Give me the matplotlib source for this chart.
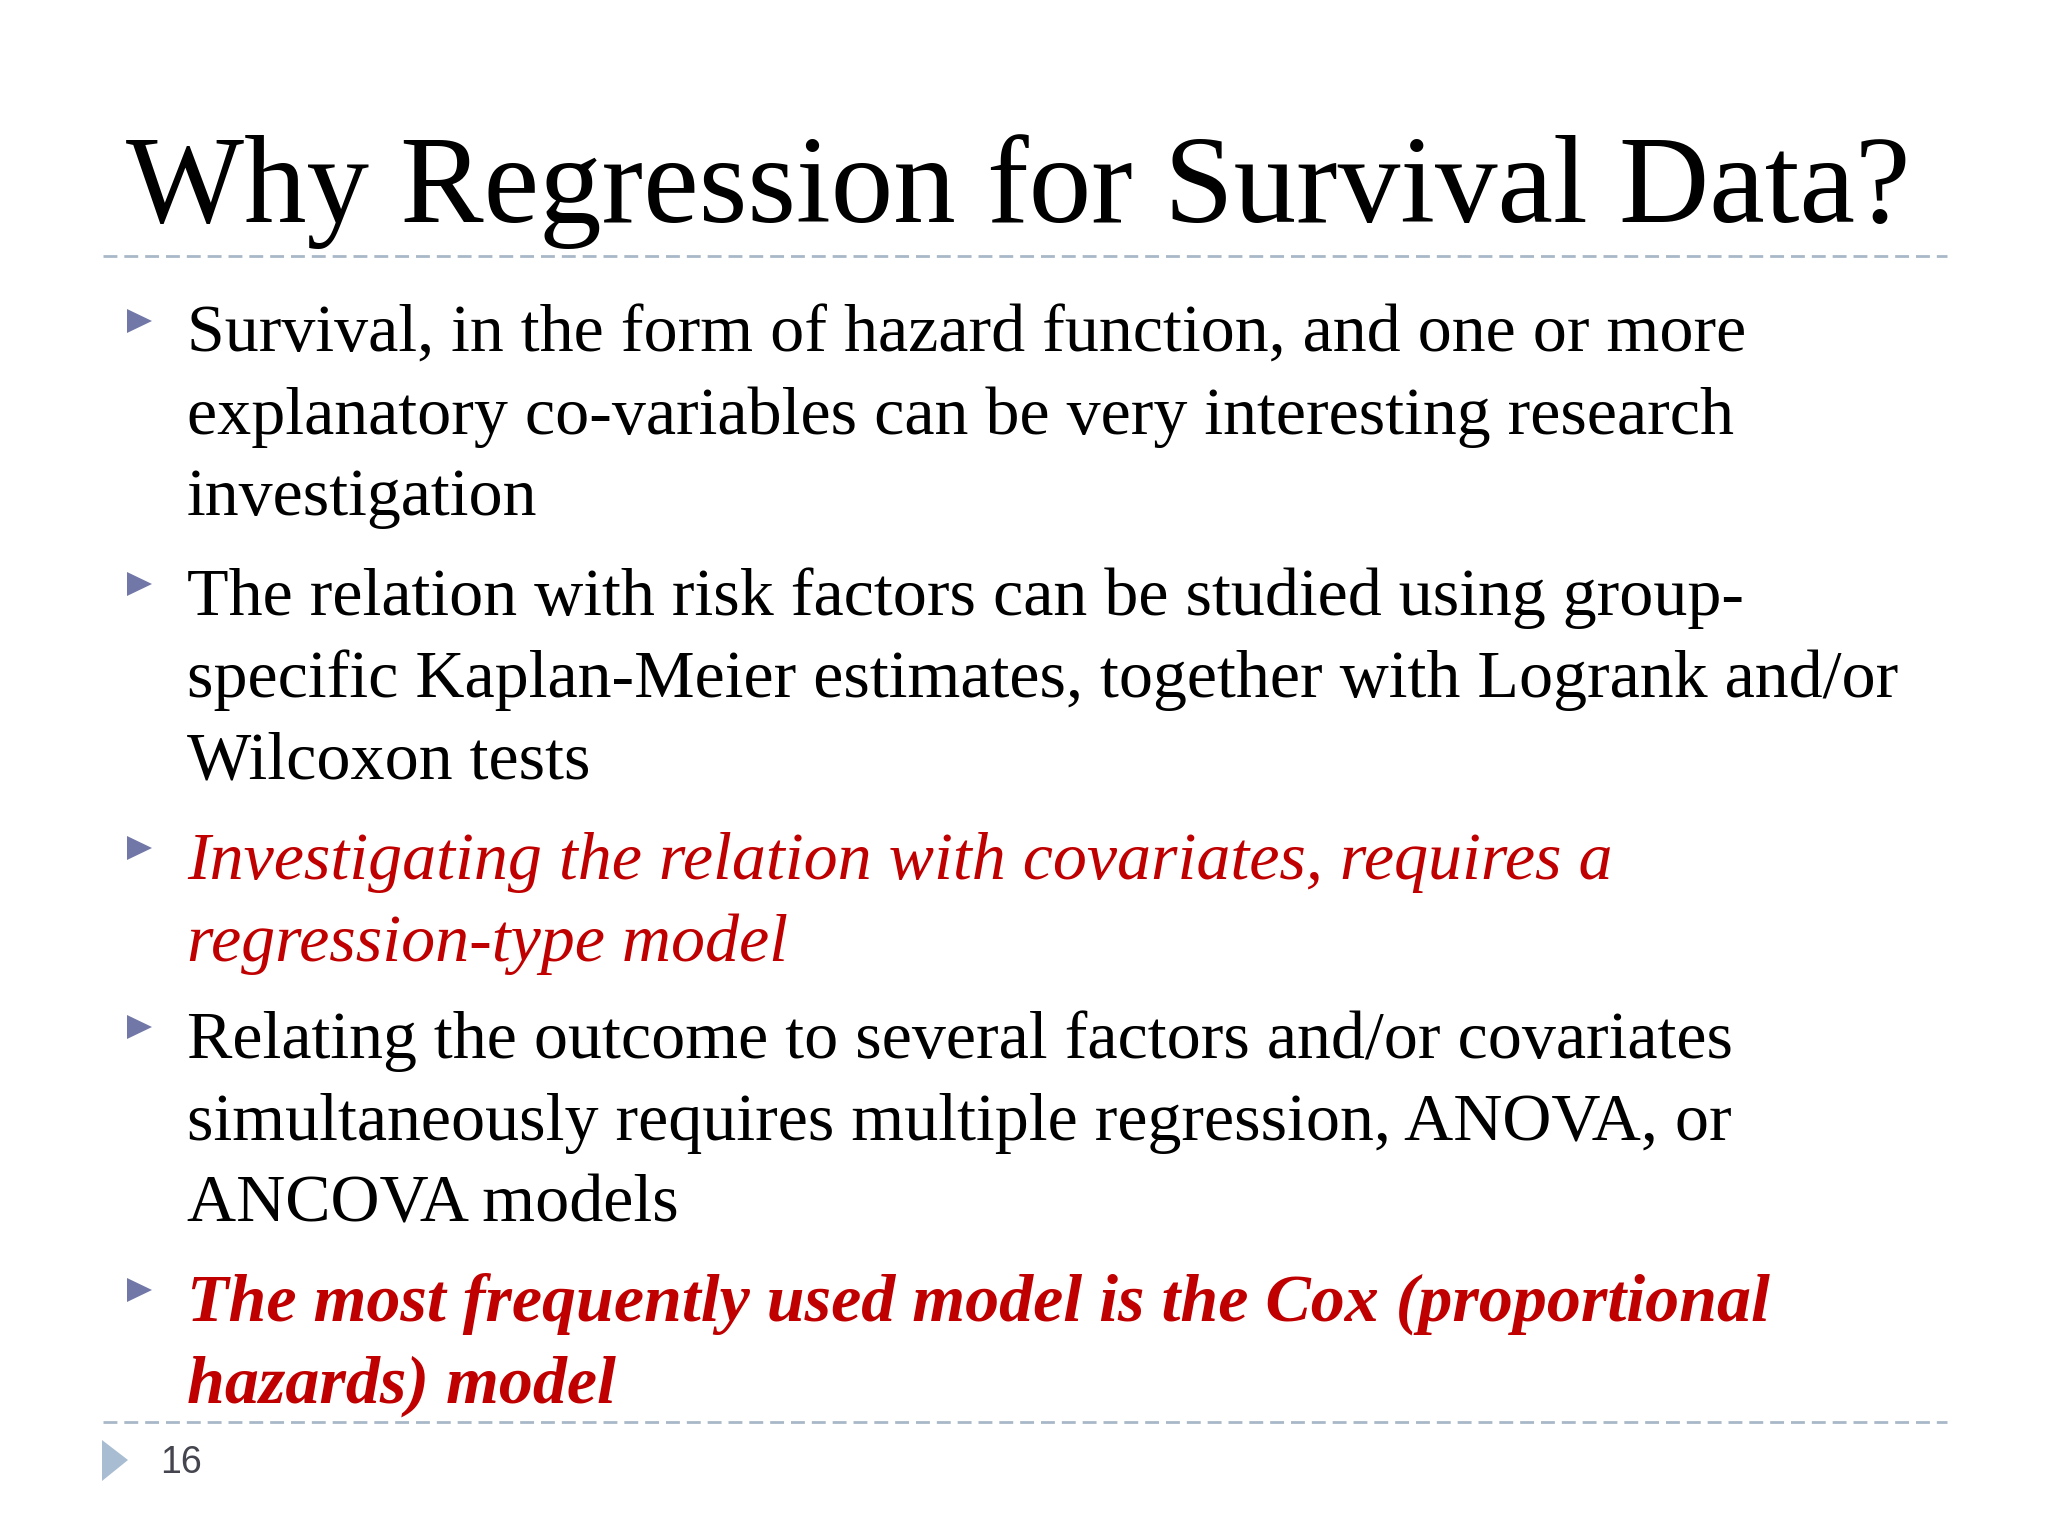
import matplotlib
matplotlib.use("Agg")
import matplotlib.pyplot as plt
from matplotlib.patches import Polygon

title = "Why Regression for Survival Data?"

bullets = [
    (["Survival, in the form of hazard function, and one or more",
      "explanatory co-variables can be very interesting research",
      "investigation"], "normal"),
    (["The relation with risk factors can be studied using group-",
      "specific Kaplan-Meier estimates, together with Logrank and/or",
      "Wilcoxon tests"], "normal"),
    (["Investigating the relation with covariates, requires a",
      "regression-type model"], "italic"),
    (["Relating the outcome to several factors and/or covariates",
      "simultaneously requires multiple regression, ANOVA, or",
      "ANCOVA models"], "normal"),
    (["The most frequently used model is the Cox (proportional",
      "hazards) model"], "bolditalic"),
]
first_baselines = [352, 615, 879, 1058, 1321]
page_number = "16"

W, H = 2048, 1536
fig = plt.figure(figsize=(W / 100, H / 100), dpi=100)
ax = fig.add_axes([0, 0, 1, 1])
ax.set_xlim(0, W)
ax.set_ylim(H, 0)
ax.axis("off")

serif = ["Liberation Serif", "DejaVu Serif"]
ax.text(126, 222, title, fontsize=90, family=serif, color="black", va="baseline", ha="left")

line_col = "#a9b8c8"
for y in (256, 1422):
    ax.plot([103, 1947], [y, y], color=line_col, lw=2, ls=(0, (5, 2.5)))

bullet_col = "#7177a6"
red = "#c00000"
step = 81.7
for (lines, style), b0 in zip(bullets, first_baselines):
    cy = b0 - 31
    ax.add_patch(Polygon([[127, cy - 12], [127, cy + 12], [152, cy]], closed=True,
                         facecolor=bullet_col, edgecolor="none"))
    kw = dict(family=serif, fontsize=49, va="baseline", ha="left")
    if style == "normal":
        kw.update(color="black")
    elif style == "italic":
        kw.update(color=red, style="italic")
    else:
        kw.update(color=red, style="italic", weight="bold")
    for i, ln in enumerate(lines):
        ax.text(187, b0 + i * step, ln, **kw)

ax.add_patch(Polygon([[102, 1440], [102, 1481], [128, 1460]], closed=True,
                     facecolor="#a8bdd2", edgecolor="none"))
ax.text(160, 1473, page_number, fontsize=27, family=["Liberation Sans", "DejaVu Sans"],
        color="#45454f", va="baseline", ha="left")

fig.savefig("out.png", dpi=100, facecolor="white")
